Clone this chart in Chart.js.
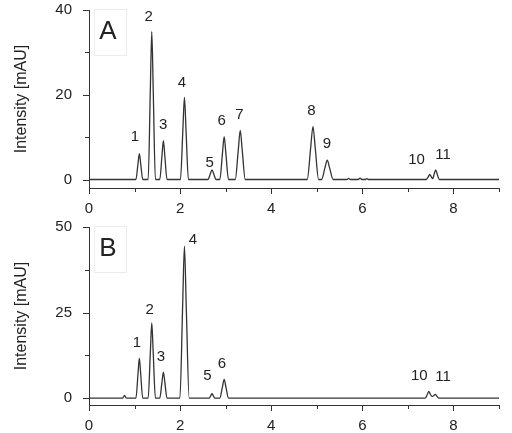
<!DOCTYPE html>
<html>
<head>
<meta charset="utf-8">
<script src="https://cdn.jsdelivr.net/npm/chart.js@4.4.1/dist/chart.umd.min.js"></script>
<style>
	html, body { margin: 0; padding: 0; background: #fff; }
	canvas { display: block; }
</style>
</head>
<body>
<canvas id="grafico-a" width="512" height="216"></canvas>
<canvas id="grafico-b" width="512" height="217"></canvas>
<script>
// retention time [min] and intensity [mAU]
var timeA = [0, 1.03, 1.075, 1.105, 1.135, 1.18, 1.298, 1.346, 1.378, 1.41, 1.458, 1.553, 1.601, 1.633, 1.665, 1.713,
	2.007, 2.06, 2.095, 2.13, 2.183, 2.61, 2.665, 2.70, 2.735, 2.79, 2.872, 2.929, 2.967, 3.005, 3.062,
	3.21, 3.277, 3.32, 3.363, 3.43, 4.79, 4.866, 4.916, 4.966, 5.04, 5.105, 5.18, 5.23, 5.28, 5.36,
	5.66, 5.7, 5.74, 5.91, 5.95, 5.99, 6.06, 6.1, 6.14, 7.40, 7.45, 7.48, 7.51, 7.545, 7.58, 7.61, 7.64, 7.69, 9];
var intensityA = [0, 0, 3.7, 6.1, 3.7, 0, 0, 21, 34.9, 21, 0, 0, 5.5, 9.2, 5.5, 0,
	0, 11.6, 19.4, 11.6, 0, 0, 1.4, 2.3, 1.4, 0, 0, 6.1, 10.1, 6.1, 0,
	0, 7.0, 11.6, 7.0, 0, 0, 7.5, 12.5, 7.5, 0, 0, 2.8, 4.6, 2.8, 0,
	0, 0.25, 0, 0, 0.35, 0, 0, 0.2, 0, 0, 0.7, 1.2, 0.7, 0.2, 1.4, 2.3, 1.4, 0, 0];

var timeB = [0, 0.74, 0.78, 0.82, 1.03, 1.075, 1.105, 1.135, 1.18, 1.298, 1.346, 1.378, 1.41, 1.458,
	1.553, 1.601, 1.633, 1.665, 1.713, 1.995, 2.055, 2.095, 2.135, 2.2, 2.64, 2.675, 2.70, 2.725, 2.76,
	2.872, 2.929, 2.967, 3.005, 3.062, 7.38, 7.43, 7.46, 7.49, 7.53, 7.565, 7.60, 7.635, 7.68, 9];
var intensityB = [0, 0, 0.8, 0, 0, 7.0, 11.7, 7.0, 0, 0, 13.2, 22.0, 13.2, 0,
	0, 4.6, 7.6, 4.6, 0, 0, 26.6, 44.4, 26.6, 0, 0, 0.8, 1.3, 0.8, 0,
	0, 3.3, 5.5, 3.3, 0, 0, 1.2, 2.0, 1.2, 0.5, 0.7, 1.1, 0.6, 0, 0];

// peak numbers and where their labels sit (data units)
var peaksA = ['1', '2', '3', '4', '5', '6', '7', '8', '9', '10', '11'];
var peakXA = [1.01, 1.31, 1.63, 2.04, 2.65, 2.91, 3.30, 4.88, 5.22, 7.19, 7.77];
var peakYA = [10.1, 38.4, 12.9, 22.8, 4.0, 13.9, 15.3, 16.2, 8.5, 4.7, 5.9];

var peaksB = ['1', '2', '3', '4', '5', '6', '10', '11'];
var peakXB = [1.05, 1.33, 1.58, 2.28, 2.60, 2.92, 7.25, 7.77];
var peakYB = [16.1, 25.9, 12.0, 46.1, 6.4, 9.9, 6.6, 6.1];

// axis ticks
var xMajor = [0, 2, 4, 6, 8];
var xMinor = [1, 3, 5, 7, 9];
var yMajorA = [0, 20, 40];
var yMinorA = [10, 30];
var yMajorB = [0, 25, 50];
var yMinorB = [12.5, 37.5];

var FONT = '"Liberation Sans", Arial, sans-serif';
var TEXT = '#222';
var LINE = '#333';

// ticks, panel letter and peak numbers
var decor = {
	id: 'decor',
	afterDraw: function(chart, args, opts) {
		var ctx = chart.ctx, a = chart.chartArea;
		var xs = chart.scales.x, ys = chart.scales.y;
		ctx.save();
		ctx.strokeStyle = LINE;
		ctx.lineWidth = 1;
		ctx.beginPath();
		xMajor.concat(xMinor).forEach(function(v) {
			var len = xMajor.indexOf(v) >= 0 ? 6 : 4;
			var px = Math.round(xs.getPixelForValue(v)) + 0.5;
			ctx.moveTo(px, a.bottom);
			ctx.lineTo(px, a.bottom + len);
		});
		opts.yMajor.concat(opts.yMinor).forEach(function(v) {
			var len = opts.yMajor.indexOf(v) >= 0 ? 6 : 4;
			var py = Math.round(ys.getPixelForValue(v)) + 0.5;
			ctx.moveTo(a.left, py);
			ctx.lineTo(a.left - len, py);
		});
		ctx.stroke();

		ctx.strokeStyle = '#ececec';
		ctx.strokeRect(a.left + 5.5, a.top - 0.5, 32, 46);
		ctx.fillStyle = TEXT;
		ctx.textAlign = 'center';
		ctx.textBaseline = 'middle';
		ctx.font = '26px ' + FONT;
		ctx.fillText(opts.letter, a.left + 19, a.top + 22);

		ctx.font = '15px ' + FONT;
		opts.names.forEach(function(n, i) {
			ctx.fillText(n, xs.getPixelForValue(opts.lx[i]), ys.getPixelForValue(opts.ly[i]));
		});
		ctx.restore();
	}
};

// invisible tick marks only reserve room between axis and labels
var hiddenGrid = function(len) {
	return { display: true, drawOnChartArea: false, drawTicks: true, tickLength: len, tickColor: 'rgba(0,0,0,0)' };
};

function construirCromatograma(id, time, intensity, yMax, yMajor, yMinor, letter, names, lx, ly, padTop) {
	var ctx = document.getElementById(id);
	var pontos = time.map(function(t, i) { return {x: t, y: intensity[i]}; });
	return new Chart(ctx, {
		type: 'line',
		data: {
			datasets: [{
				data: pontos,
				borderColor: LINE,
				borderWidth: 1.3,
				pointRadius: 0,
				cubicInterpolationMode: 'monotone',
				fill: false
			}]
		},
		options: {
			responsive: false,
			animation: false,
			layout: { padding: { top: padTop, right: 13, left: 0, bottom: 0 } },
			plugins: {
				legend: { display: false },
				tooltip: { enabled: false },
				decor: { letter: letter, names: names, lx: lx, ly: ly, yMajor: yMajor, yMinor: yMinor }
			},
			scales: {
				x: {
					type: 'linear',
					min: 0,
					max: 9,
					afterBuildTicks: function(s) { s.ticks = xMajor.map(function(v) { return {value: v}; }); },
					afterFit: function(s) { s.height = 28; },
					grid: hiddenGrid(12),
					border: { display: true, color: LINE, width: 1 },
					ticks: { padding: 0, color: TEXT, font: { family: FONT, size: 15 }, maxRotation: 0, autoSkip: false }
				},
				y: {
					min: -2,
					max: yMax,
					afterBuildTicks: function(s) { s.ticks = yMajor.map(function(v) { return {value: v}; }); },
					afterFit: function(s) { s.width = 89; },
					grid: hiddenGrid(17),
					border: { display: true, color: LINE, width: 1 },
					ticks: { padding: 0, color: TEXT, font: { family: FONT, size: 15 } },
					title: {
						display: true,
						text: 'Intensity [mAU]',
						color: TEXT,
						font: { family: FONT, size: 16 },
						padding: { top: 12, bottom: 0 }
					}
				}
			}
		},
		plugins: [decor]
	});
}

construirCromatograma('grafico-a', timeA, intensityA, 40, yMajorA, yMinorA, 'A', peaksA, peakXA, peakYA, 10);
construirCromatograma('grafico-b', timeB, intensityB, 50, yMajorB, yMinorB, 'B', peaksB, peakXB, peakYB, 11);
</script>
</body>
</html>
